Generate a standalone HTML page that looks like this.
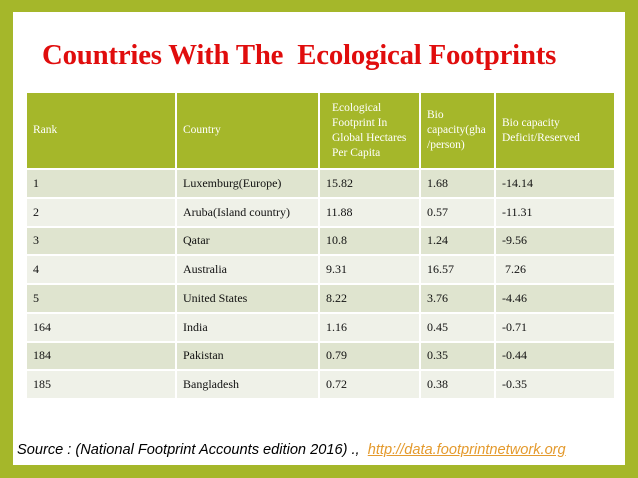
<!DOCTYPE html>
<html><head><meta charset="utf-8"><style>
body{margin:0;width:638px;height:478px;background:#a5b72a;position:relative;overflow:hidden;font-family:"Liberation Serif",serif}
#slide{position:absolute;left:13px;top:12px;width:612px;height:453px;background:#fff}
h1{position:absolute;left:42px;top:39px;margin:0;font-size:28.8px;color:#e00d0d;font-weight:bold;white-space:pre;letter-spacing:-0.2px}
table{position:absolute;left:25px;top:91px;border-collapse:collapse;table-layout:fixed;width:589px;font-size:12px}
td{border:2px solid #fff;padding:0 0 0 6px;vertical-align:middle;color:#111}
tbody tr{height:28.75px}
thead tr{height:77px}
thead td{background:#a5b72a;color:#fff;font-size:11.5px;line-height:15px;padding-right:8px}
thead td.p{padding-left:12px}
tr.a td{background:#dfe4cf}
tr.b td{background:#eff1e8}
#src{position:absolute;left:17px;top:442px;font-family:"Liberation Sans",sans-serif;font-style:italic;font-size:14.6px;color:#000}
#src a{color:#e49a2d;text-decoration:underline}
</style></head><body>
<div id="slide"></div>
<h1>Countries With The  Ecological Footprints</h1>
<table>
<colgroup><col style="width:150px"><col style="width:143px"><col style="width:101px"><col style="width:75px"><col style="width:120px"></colgroup>
<thead><tr><td>Rank</td><td>Country</td><td class="p">Ecological Footprint In Global Hectares Per Capita</td><td>Bio capacity(gha /person)</td><td>Bio capacity Deficit/Reserved</td></tr></thead>
<tbody>
<tr class="a"><td>1</td><td>Luxemburg(Europe)</td><td>15.82</td><td>1.68</td><td>-14.14</td></tr>
<tr class="b"><td>2</td><td>Aruba(Island country)</td><td>11.88</td><td>0.57</td><td>-11.31</td></tr>
<tr class="a"><td>3</td><td>Qatar</td><td>10.8</td><td>1.24</td><td>-9.56</td></tr>
<tr class="b"><td>4</td><td>Australia</td><td>9.31</td><td>16.57</td><td>&nbsp;7.26</td></tr>
<tr class="a"><td>5</td><td>United States</td><td>8.22</td><td>3.76</td><td>-4.46</td></tr>
<tr class="b"><td>164</td><td>India</td><td>1.16</td><td>0.45</td><td>-0.71</td></tr>
<tr class="a"><td>184</td><td>Pakistan</td><td>0.79</td><td>0.35</td><td>-0.44</td></tr>
<tr class="b"><td>185</td><td>Bangladesh</td><td>0.72</td><td>0.38</td><td>-0.35</td></tr>
</tbody></table>
<div id="src">Source : (National Footprint Accounts edition 2016) .,&nbsp; <a>http://data.footprintnetwork.org</a></div>
</body></html>
